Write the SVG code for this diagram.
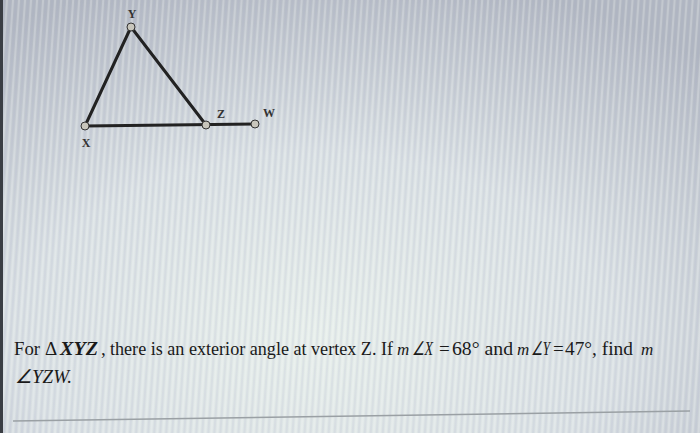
<svg xmlns="http://www.w3.org/2000/svg" width="700" height="433" viewBox="0 0 700 433">
<defs>
<radialGradient id="bg" cx="0.45" cy="0.78" r="0.85">
<stop offset="0" stop-color="#e6eeea"/>
<stop offset="0.5" stop-color="#d9e0e3"/>
<stop offset="1" stop-color="#b2b8c2"/>
</radialGradient>
<pattern id="stripes" width="6" height="10" patternUnits="userSpaceOnUse" patternTransform="rotate(4)">
<rect x="0" y="0" width="2" height="10" fill="#ffffff" opacity="0.22"/>
<rect x="3" y="0" width="2" height="10" fill="#a0a0c8" opacity="0.12"/>
</pattern>
<style>
.edge{stroke:#222;stroke-width:3;fill:none;stroke-linecap:round}
.pt{fill:#c8c6bc;stroke:#333;stroke-width:1}
.lbl{font-family:"Liberation Serif",serif;font-weight:bold;font-size:12px;fill:#333;text-anchor:middle}
.txt{font-family:"Liberation Serif",serif;font-size:19px;fill:#1a1a1a}
.it{font-style:italic}
</style>
</defs>
<rect width="700" height="433" fill="url(#bg)"/>
<rect width="700" height="433" fill="url(#stripes)"/>
<rect x="0" y="0" width="3" height="433" fill="#3a3e44"/>
<g id="connectors">
<line class="edge" x1="85" y1="126" x2="131" y2="27"/>
<line class="edge" x1="131" y1="27" x2="206" y2="125"/>
<line class="edge" x1="85" y1="126" x2="255" y2="124"/>
</g>
<g id="node-Y"><circle class="pt" cx="131" cy="27" r="4"/><text class="lbl" x="132" y="18">Y</text></g>
<g id="node-X"><circle class="pt" cx="85" cy="126" r="4"/><text class="lbl" x="86" y="147">X</text></g>
<g id="node-Z"><circle class="pt" cx="206" cy="125" r="4"/><text class="lbl" x="221" y="118">Z</text></g>
<g id="node-W"><circle class="pt" cx="255" cy="124" r="4"/><text class="lbl" x="269" y="117">W</text></g>
<g id="question">
<text class="txt" y="355"><tspan x="14" textLength="26" lengthAdjust="spacingAndGlyphs">For</tspan><tspan x="45">Δ</tspan><tspan x="60" class="it" font-weight="bold" textLength="38" lengthAdjust="spacingAndGlyphs">XYZ</tspan><tspan x="101">,</tspan><tspan x="110" textLength="283" lengthAdjust="spacingAndGlyphs">there is an exterior angle at vertex Z. If</tspan><tspan x="397" class="it" font-size="17">m</tspan><tspan x="412" class="it" textLength="21" lengthAdjust="spacingAndGlyphs">∠X</tspan><tspan x="439">=</tspan><tspan x="452" textLength="61" lengthAdjust="spacingAndGlyphs">68° and</tspan><tspan x="517" class="it" font-size="17">m</tspan><tspan x="531" class="it" textLength="19" lengthAdjust="spacingAndGlyphs">∠Y</tspan><tspan x="553">=</tspan><tspan x="565" textLength="68" lengthAdjust="spacingAndGlyphs">47°, find</tspan><tspan x="641" class="it" font-size="17">m</tspan></text>
<text class="txt it" x="15" y="383" textLength="57" lengthAdjust="spacingAndGlyphs">∠YZW.</text>
</g>
<line x1="13" y1="421" x2="690" y2="411" stroke="#9aa0a4" stroke-width="1.5"/>
</svg>
